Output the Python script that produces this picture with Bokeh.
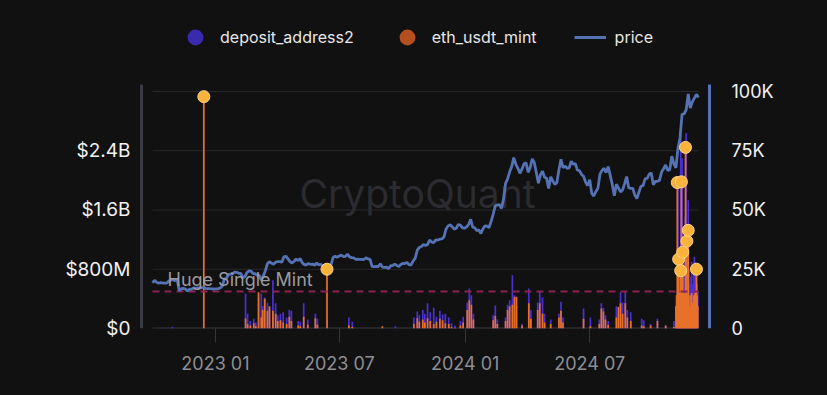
import numpy as np
import pandas as pd
from bokeh.plotting import figure
from bokeh.models import (Range1d, LinearAxis, FixedTicker, DatetimeTickFormatter,
                          Legend, LegendItem, Label)
from bokeh.embed import file_html
from bokeh.resources import INLINE

# ---------------- data ----------------
price_start = "2022-10-01"
price_step = "3D"
price_k = [
    19.3, 20.3, 19.5, 19.1, 19.4, 19.2, 19.1, 19.2, 20.1, 20.6, 20.5,
    20.2, 20.9, 15.9, 16.8, 16.9, 16.7, 15.8, 16.6, 16.5, 17.2,
    16.9, 17.1, 17.1, 17.2, 17.4, 16.8, 16.8, 16.8, 16.7, 16.6,
    16.7, 16.8, 17.1, 17.9, 20.9, 21.1, 22.7, 22.9, 23.0, 23.8,
    23.7, 23.3, 23.2, 21.6, 21.8, 23.6, 24.3, 24.2, 23.2, 23.1,
    22.4, 22.4, 20.4, 22.2, 24.4, 27.4, 28.2, 27.5, 27.1, 28.0,
    28.2, 28.2, 28.0, 30.2, 30.5, 29.4, 28.2, 27.6, 28.4, 29.3,
    28.7, 29.5, 27.7, 26.9, 26.9, 27.4, 27.1, 27.2, 26.7, 27.7,
    26.8, 27.1, 26.3, 25.8, 25.9, 26.3, 26.8, 30.0, 30.5, 30.1,
    30.6, 31.0, 30.3, 30.4, 31.4, 30.2, 29.9, 29.8, 29.2, 29.3, 29.2,
    29.2, 29.1, 29.8, 29.4, 29.2, 26.1, 26.1, 26.2, 26.1, 27.3,
    25.9, 25.8, 25.9, 25.2, 26.5, 26.5, 27.2, 26.6, 26.2, 27.0,
    27.5, 27.4, 27.9, 26.8, 26.9, 28.5, 29.7, 33.1, 34.2, 34.6,
    35.4, 35.0, 35.4, 37.3, 36.5, 36.2, 37.4, 37.3, 37.7, 37.8,
    38.7, 41.9, 43.3, 43.8, 42.9, 41.9, 42.3, 43.9, 43.6, 42.5, 42.3,
    42.8, 43.9, 46.1, 42.8, 42.5, 41.3, 41.6, 40.1, 42.1, 43.3,
    43.2, 42.6, 45.3, 48.3, 51.8, 52.1, 52.3, 50.7, 54.5, 61.2,
    63.1, 66.1, 68.3, 72.1, 69.4, 67.6, 65.5, 67.2, 69.5, 69.9,
    65.9, 67.8, 71.6, 70.0, 65.7, 61.3, 64.9, 66.4, 63.8, 63.4,
    59.1, 64.0, 62.3, 60.8, 61.6, 66.9, 71.4, 67.9, 68.5, 67.6,
    67.8, 70.6, 69.3, 69.6, 66.8, 66.6, 65.0, 64.2, 61.8, 60.3,
    62.8, 57.0, 55.9, 57.8, 59.2, 65.1, 66.7, 67.6, 65.8, 68.3, 64.6,
    60.7, 56.0, 60.9, 59.3, 57.6, 58.4, 61.1, 64.1, 59.4, 59.1,
    59.1, 56.2, 54.8, 57.6, 60.0, 60.3, 63.2, 63.3, 65.2, 65.6,
    60.6, 62.1, 62.1, 62.5, 66.0, 67.4, 69.0, 66.7, 67.0, 72.7,
    69.5, 67.8, 76.0, 80.4, 90.4, 90.6, 92.3, 99.0, 93.0, 95.6,
    97.2, 98.8, 97.5,
]

bar_dates = [
    "2022-10-30", "2022-12-15",
    "2023-02-14", "2023-02-17", "2023-02-21", "2023-02-26", "2023-03-01", "2023-03-05",
    "2023-03-09", "2023-03-11", "2023-03-14", "2023-03-18", "2023-03-21", "2023-03-26",
    "2023-03-30", "2023-04-02", "2023-04-06", "2023-04-10", "2023-04-15", "2023-04-19",
    "2023-04-22", "2023-05-02", "2023-05-05", "2023-05-10", "2023-05-16", "2023-05-27",
    "2023-05-30", "2023-06-13", "2023-07-15", "2023-07-20", "2023-09-02", "2023-09-21",
    "2023-10-18", "2023-10-23", "2023-10-26", "2023-10-31", "2023-11-03", "2023-11-07",
    "2023-11-11", "2023-11-16", "2023-11-20", "2023-11-25", "2023-11-29", "2023-12-03",
    "2023-12-08", "2023-12-12", "2023-12-17", "2023-12-25", "2023-12-29",
    "2024-01-04", "2024-01-07", "2024-01-10", "2024-01-13", "2024-02-11", "2024-02-14",
    "2024-02-17", "2024-02-29", "2024-03-03", "2024-03-06", "2024-03-10", "2024-03-13",
    "2024-03-16", "2024-03-24", "2024-04-03", "2024-04-06", "2024-04-16", "2024-04-19",
    "2024-04-23", "2024-04-26", "2024-05-05", "2024-05-17", "2024-05-20", "2024-05-23",
    "2024-06-22", "2024-07-02", "2024-07-15", "2024-07-18", "2024-07-21", "2024-07-24",
    "2024-07-28", "2024-08-09", "2024-08-12", "2024-08-15", "2024-08-18", "2024-08-22",
    "2024-08-25", "2024-08-30", "2024-09-15", "2024-09-18", "2024-09-28", "2024-10-08",
    "2024-10-20", "2024-11-01",
    "2024-11-04", "2024-11-05", "2024-11-06", "2024-11-07", "2024-11-08", "2024-11-09",
    "2024-11-10", "2024-11-11", "2024-11-12", "2024-11-13", "2024-11-14", "2024-11-15",
    "2024-11-16", "2024-11-17", "2024-11-18", "2024-11-19", "2024-11-20", "2024-11-21",
    "2024-11-22", "2024-11-23", "2024-11-24", "2024-11-25", "2024-11-26", "2024-11-27",
    "2024-11-28", "2024-11-29", "2024-11-30", "2024-12-01", "2024-12-02", "2024-12-03",
    "2024-12-04", "2024-12-05", "2024-12-06",
]

# millions of USD
deposit_address2_m = [
    25, 0,
    470, 200, 100, 130, 80, 420,
    470, 300, 420, 350, 280, 650,
    340, 180, 200, 220, 150, 250,
    240, 100, 90, 340, 120, 200,
    130, 120, 150, 90, 0, 30,
    150, 230, 180, 250, 200, 340,
    220, 280, 160, 240, 190, 200,
    150, 70, 40, 100, 160,
    350, 540, 450, 200, 180, 310,
    120, 150, 320, 380, 720, 450,
    300, 60, 540, 250, 350, 500,
    420, 200, 120, 200, 360, 150,
    270, 150, 120, 340, 280, 180,
    100, 300, 200, 490, 350, 500,
    250, 220, 130, 110, 60, 130,
    40, 100,
    200, 350, 500, 1960, 600, 700,
    800, 2680, 900, 2300, 700, 800,
    600, 900, 1500, 2640, 800, 1000,
    1730, 800, 600, 500, 700, 900,
    600, 500, 800, 970, 900, 700,
    850, 600, 500,
]

eth_usdt_mint_m = [
    0, 3130,
    135, 60, 40, 70, 30, 490,
    150, 250, 400, 240, 300, 240,
    200, 100, 110, 80, 60, 160,
    100, 40, 30, 160, 50, 140,
    50, 800, 40, 20, 30, 0,
    60, 140, 90, 120, 80, 140,
    100, 60, 90, 130, 110, 70,
    60, 20, 10, 40, 80,
    250, 380, 320, 120, 110, 170,
    60, 100, 250, 300, 320, 430,
    430, 40, 340, 130, 250, 340,
    200, 80, 60, 150, 240, 80,
    130, 30, 60, 270, 230, 120,
    50, 150, 290, 340, 200, 340,
    150, 100, 40, 30, 40, 100,
    40, 20,
    300, 450, 1970, 400, 936, 480,
    450, 780, 1980, 450, 1030, 480,
    400, 470, 2445, 450, 1180, 450,
    1325, 450, 300, 250, 450, 480,
    350, 300, 450, 450, 480, 480,
    800, 450, 300,
]

huge_mint_threshold_m = 500
threshold_label = "Huge Single Mint"

left_ticks = [0, 800_000_000, 1_600_000_000, 2_400_000_000]
left_tick_labels = ["$0", "$800M", "$1.6B", "$2.4B"]
right_ticks = [0, 25_000, 50_000, 75_000, 100_000]
right_tick_labels = ["0", "25K", "50K", "75K", "100K"]
x_tick_dates = ["2023-01-01", "2023-07-01", "2024-01-01", "2024-07-01"]

# ---------------- derived ----------------
price_dates = pd.date_range(price_start, periods=len(price_k), freq=price_step)
price = np.array(price_k) * 1000.0
bx = pd.to_datetime(bar_dates)
dep = np.array(deposit_address2_m) * 1e6
mint = np.array(eth_usdt_mint_m) * 1e6
assert len(bx) == len(dep) == len(mint)
huge = mint > huge_mint_threshold_m * 1e6

x_first = price_dates[0]
x_last = price_dates[-1]
DAY = 86400000

# layout (screen px): frame 139..711 x 17..328 ; data area 152..698 ; axes top at y=84
PX_PER_DAY = 546.0 / (x_last - x_first).days
pad = pd.Timedelta(days=13.0 / PX_PER_DAY)
bar_off = pd.Timedelta(days=11.0 / PX_PER_DAY)
FRAME_H = 311.0
AXIS_H = 244.0
PRICE_TOP = 102950.0
LEFT_TOP = 3.294e9

BG = "#111111"
BLUE = "#4a30d4"
ORANGE = "#e8712a"
PRICE = "#5572b4"
FONT = "Inter"

p = figure(width=811, height=379, x_axis_type="datetime", title=None,
           x_range=Range1d(x_first - pad, x_last + pad),
           y_range=Range1d(0, LEFT_TOP * FRAME_H / AXIS_H),
           output_backend="svg", toolbar_location=None,
           background_fill_color=BG, border_fill_color=BG, outline_line_color=None,
           min_border_left=139, min_border_right=100, min_border_top=17, min_border_bottom=51)
p.extra_y_ranges = {"price": Range1d(0, PRICE_TOP * FRAME_H / AXIS_H)}
p.xgrid.visible = False
p.ygrid.visible = False

# watermark
wm_x = (x_first + pd.Timedelta(days=265.0 / PX_PER_DAY)).value / 1e6
p.add_layout(Label(x=wm_x, y=LEFT_TOP * 135.0 / AXIS_H, text="CryptoQuant",
                   text_align="center", text_baseline="alphabetic", text_font=FONT,
                   text_font_size="39px", text_color="#2b2b30", level="image"))

# gridlines, baseline, axis bars
gl = right_ticks[1:]
p.segment(x0=[x_first] * len(gl), x1=[x_last] * len(gl), y0=gl, y1=gl,
          y_range_name="price", line_color="#28282e", line_width=1.2)
p.segment(x0=[x_first], x1=[x_last], y0=[0], y1=[0], line_color="#3a3a42", line_width=2)
p.segment(x0=[x_first - bar_off], x1=[x_first - bar_off], y0=[0], y1=[PRICE_TOP],
          y_range_name="price", line_color="#3a3a42", line_width=3)
p.segment(x0=[x_last + bar_off], x1=[x_last + bar_off], y0=[0], y1=[PRICE_TOP],
          y_range_name="price", line_color=PRICE, line_width=3)

# bars
p.vbar(x=bx, top=dep, width=2.5 * DAY, fill_color=BLUE, line_color=None)
p.vbar(x=bx, top=mint, width=2.5 * DAY, fill_color=ORANGE, line_color=None)

# threshold
thr = huge_mint_threshold_m * 1e6
p.segment(x0=[x_first], x1=[x_last], y0=[thr], y1=[thr], line_color="#8c2350",
          line_width=2, line_dash="7 5")

# price
price_r = p.line(price_dates, price, y_range_name="price", line_color=PRICE, line_width=2.8)

# huge mint markers
p.scatter(bx[huge], mint[huge], size=12, fill_color="#f9b23c", line_color="#ffd38a",
          line_width=1)

p.add_layout(Label(x=x_first.value / 1e6, y=thr, x_offset=15, y_offset=12, text=threshold_label,
                   text_baseline="alphabetic", text_font=FONT, text_font_size="18px",
                   text_color="#9a9aa0"))

# axes
ya = p.yaxis[0]
ya.ticker = FixedTicker(ticks=left_ticks)
ya.major_label_overrides = dict(zip(left_ticks, left_tick_labels))
ya.axis_line_color = None
ya.major_tick_line_color = None
ya.major_tick_out = 0
ya.major_tick_in = 0
ya.minor_tick_line_color = None
ya.major_label_standoff = 9
ya.major_label_text_color = "#f2f2f2"
ya.major_label_text_font = FONT
ya.major_label_text_font_size = "19px"

ra = LinearAxis(y_range_name="price")
ra.ticker = FixedTicker(ticks=right_ticks)
ra.major_label_overrides = dict(zip(right_ticks, right_tick_labels))
ra.axis_line_color = None
ra.major_tick_line_color = None
ra.major_tick_out = 0
ra.major_tick_in = 0
ra.minor_tick_line_color = None
ra.major_label_standoff = 20
ra.major_label_text_color = "#f2f2f2"
ra.major_label_text_font = FONT
ra.major_label_text_font_size = "18px"
p.add_layout(ra, "right")

xa = p.xaxis[0]
xa.ticker = FixedTicker(ticks=[pd.Timestamp(d).value / 1e6 for d in x_tick_dates])
fmt = "%Y %m"
xa.formatter = DatetimeTickFormatter(years=fmt, months=fmt, days=fmt, hours=fmt,
                                     minutes=fmt, seconds=fmt, milliseconds=fmt)
xa.axis_line_color = None
xa.major_tick_in = 0
xa.major_tick_out = 14
xa.major_tick_line_color = "#34343a"
xa.minor_tick_line_color = None
xa.major_label_standoff = 10
xa.major_label_text_color = "#8e8e96"
xa.major_label_text_font = FONT
xa.major_label_text_font_size = "18px"

# legend (inside the tall frame, above the axes area); the legend-only markers sit
# below the visible y range so that only their legend glyph is seen
off = -1e12
r_dep = p.scatter(x=[x_first], y=[off], marker="circle", fill_color="#3a2ab0",
                  line_color="#3a2ab0", line_width=3)
r_mint = p.scatter(x=[x_first], y=[off], marker="circle", fill_color="#b4501f",
                   line_color="#b4501f", line_width=3)
leg = Legend(items=[LegendItem(label="deposit_address2", renderers=[r_dep]),
                    LegendItem(label="eth_usdt_mint", renderers=[r_mint]),
                    LegendItem(label="price", renderers=[price_r])],
             orientation="horizontal", location=(40, 275), glyph_width=32, glyph_height=32,
             label_standoff=9, spacing=37, padding=0, margin=0, background_fill_alpha=0,
             border_line_color=None, label_text_font=FONT, label_text_font_size="16px",
             label_text_color="#e8e8e8")
p.add_layout(leg)

html = file_html(p, INLINE)
html = html.replace("</head>", "<style>html,body{background:#111111;}</style></head>", 1)
open("out.html", "w").write(html)
